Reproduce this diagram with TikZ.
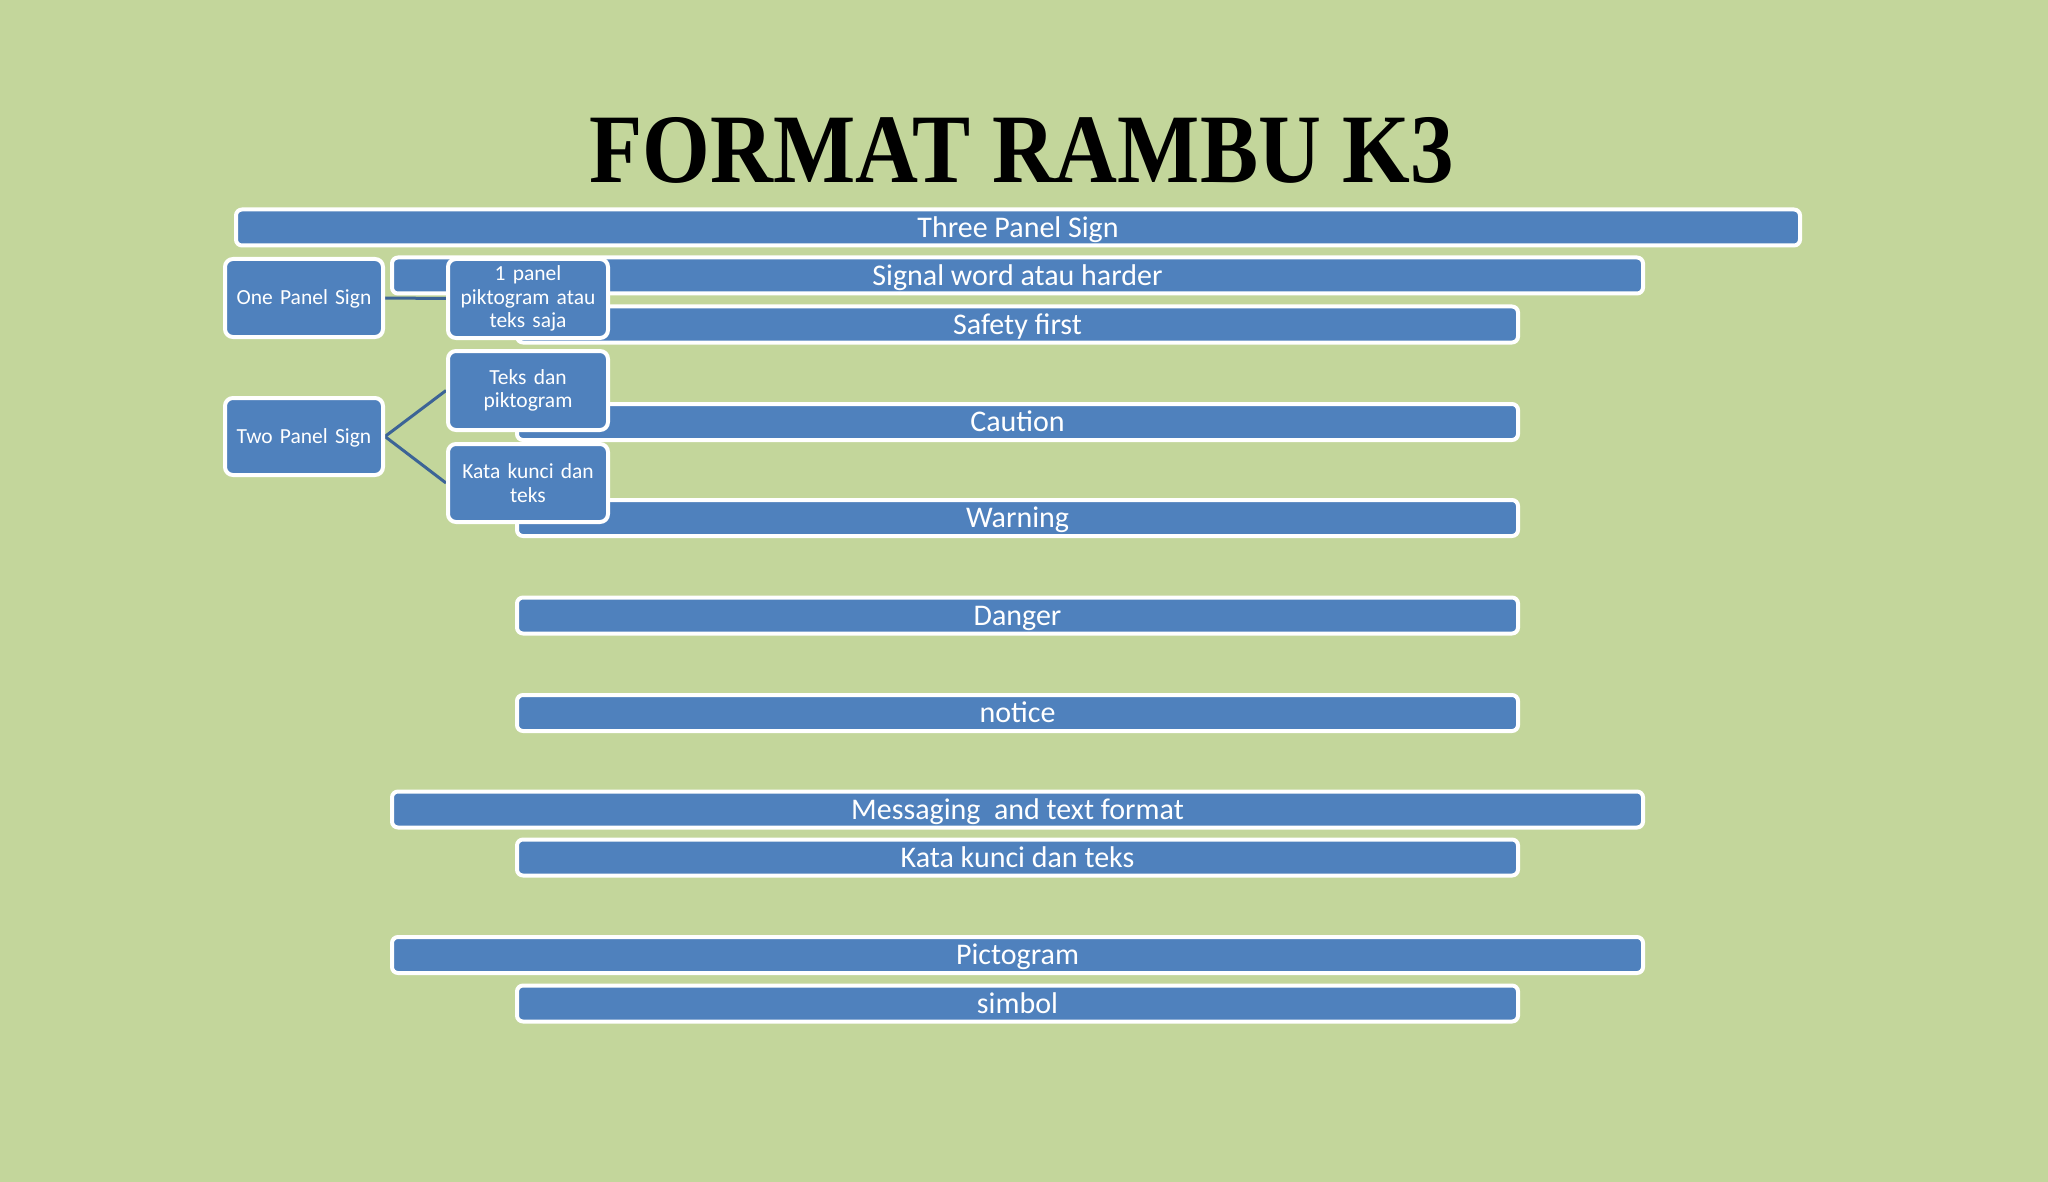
\documentclass[tikz,border=0pt]{standalone}
\usepackage{fontspec}
\usepackage{graphicx}
\setmainfont{Carlito}
\newfontfamily\titlefont{Liberation Serif}
\definecolor{bgc}{HTML}{C3D69B}
\definecolor{boxblue}{HTML}{4F81BD}
\definecolor{linkc}{HTML}{3C6496}
\pgfdeclarelayer{bg}
\pgfdeclarelayer{background}
\pgfsetlayers{bg,background,main}
\tikzset{
  bar/.style={draw=white, line width=4pt, fill=boxblue, rounded corners=6pt,
    text=white, font=\fontsize{30}{34}\selectfont, inner sep=0pt,
    minimum height=36pt, text height=19.5pt, text depth=0pt},
  sbox/.style={draw=white, line width=4pt, fill=boxblue, rounded corners=8pt,
    text=white, font=\fontsize{21.5}{23.5}\selectfont, inner sep=0pt,
    align=center, text width=150pt},
  single/.style={text height=14pt, text depth=0pt},
  link/.style={draw=linkc, line width=3pt},
  ttl/.style={inner sep=0pt, font=\titlefont\bfseries}
}
\newcommand{\ttlplain}{\resizebox{864pt}{65pt}{FORMAT RAMBU K3}}
\begin{document}
\begin{tikzpicture}[x=1pt,y=-1pt]
\begin{pgfonlayer}{bg}
\fill[bgc] (0,0) rectangle (2048,1182);
\end{pgfonlayer}
\useasboundingbox (0,0) rectangle (2048,1182);
% title
\node[ttl, text=black] (title) at (1022,150.5) {\ttlplain};
% bars
\node[bar, minimum width=1564pt] (three) at (1018,227.5) {Three Panel Sign};
\node[bar, minimum width=1251pt] (signal) at (1017.5,275.5) {Signal word atau harder};
\node[bar, minimum width=1001pt] (safety) at (1017.5,324.5) {Safety first};
\node[bar, minimum width=1001pt] (caution) at (1017.5,422) {Caution};
\node[bar, minimum width=1001pt] (warning) at (1017.5,518) {Warning};
\node[bar, minimum width=1001pt] (danger) at (1017.5,615.5) {Danger};
\node[bar, minimum width=1001pt] (notice) at (1017.5,713) {notice};
\node[bar, minimum width=1251pt] (messaging) at (1017.5,809.5) {Messaging\ \ and text format};
\node[bar, minimum width=1001pt] (katabar) at (1017.5,857.5) {Kata kunci dan teks};
\node[bar, minimum width=1251pt] (picto) at (1017.5,955) {Pictogram};
\node[bar, minimum width=1001pt] (simbol) at (1017.5,1003.5) {simbol};
% small boxes
\node[sbox, single, minimum width=158pt, minimum height=78pt] (one) at (304,298) {One Panel Sign};
\node[sbox, single, minimum width=158pt, minimum height=77pt] (two) at (304,436.5) {Two Panel Sign};
\node[sbox, minimum width=160pt, minimum height=79pt] (p1) at (528,298.5) {1 panel\\piktogram atau\\teks saja};
\node[sbox, minimum width=160pt, minimum height=79pt] (tp) at (528,390.5) {Teks dan\\piktogram};
\node[sbox, minimum width=160pt, minimum height=78pt] (kk) at (528,483) {Kata kunci dan\\teks};
% connectors
\begin{pgfonlayer}{background}
\draw[link] (one.east) -- (p1.west);
\draw[link] (two.east) -- (tp.west);
\draw[link] (two.east) -- (kk.west);
\end{pgfonlayer}
\end{tikzpicture}
\end{document}
